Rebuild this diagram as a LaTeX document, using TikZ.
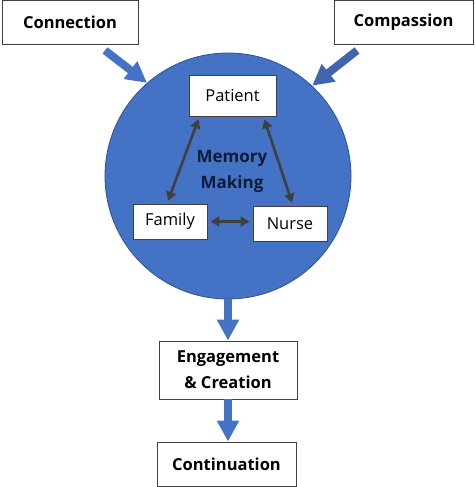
\documentclass[tikz,border=0pt]{standalone}
\usepackage{fontspec}
\setmainfont{Open Sans}
\usepackage{tikz}
\usetikzlibrary{arrows.meta,positioning}

\definecolor{hubblue}{HTML}{4472C4}
\definecolor{hubedge}{HTML}{2F528F}
\definecolor{flowdark}{HTML}{3F65AF}
\definecolor{linkgray}{HTML}{404040}
\definecolor{hubtext}{HTML}{101C3A}

\tikzset{
  box/.style={draw=black!75, line width=0.9pt, fill=white, align=center, inner sep=0pt},
  mainbox/.style={box, font=\fontsize{16.5}{26}\selectfont\bfseries},
  rolebox/.style={box, font=\fontsize{16.5}{20}\selectfont},
  flow/.style={draw=hubblue, line width=8pt, -{Triangle[width=21pt,length=21pt]}},
  link/.style={draw=linkgray, line width=2.6pt, {Triangle[width=10pt,length=9pt]}-{Triangle[width=10pt,length=9pt]}, shorten <=3pt, shorten >=3pt}
}

\begin{document}
\begin{tikzpicture}[on grid, node distance=2cm]
  \useasboundingbox (-228pt,176pt) rectangle (246pt,-311pt);
  \node[circle, draw=hubedge, line width=0.8pt, fill=hubblue, minimum size=246pt] (hub) at (0,0) {};
  \node[font=\fontsize{17}{26}\selectfont\bfseries, text=hubtext, align=center] (memory) [above right=5pt and 4pt of hub] {Memory\\Making};
  \node[rolebox, minimum width=87pt, minimum height=41pt] (patient) [above right=80.5pt and 4.5pt of hub] {Patient};
  \node[rolebox, minimum width=74pt, minimum height=35pt] (family) [below left=45.5pt and 58pt of hub] {Family};
  \node[rolebox, minimum width=74pt, minimum height=35pt] (nurse) [below right=47.5pt and 62pt of hub] {Nurse};
  \node[mainbox, minimum width=136pt, minimum height=44pt] (conn) [above left=154pt and 158pt of hub] {Connection};
  \node[mainbox, minimum width=139pt, minimum height=44pt] (comp) [above right=154pt and 175.5pt of hub] {Compassion};
  \node[mainbox, minimum width=138pt, minimum height=58pt] (engage) [below=194pt of hub] {Engagement\\\& Creation};
  \node[mainbox, minimum width=139pt, minimum height=44pt] (contin) [below left=94pt and 1.5pt of engage] {Continuation};
  % tails of the two feeding arrows
  \coordinate (connTail) at ([shift={(35pt,-6pt)}]conn.south);
  \coordinate (compTail) at ([shift={(-46.5pt,-6pt)}]comp.south);
  \path[flow] (connTail) -- (hub.131);
  \path[flow, draw=flowdark] (compTail) -- (hub.47);
  \path[flow] (hub.south) -- (engage.north);
  \path[flow] (engage.south) -- (engage.south |- contin.north);
  % links inside the circle
  \path[link] ([xshift=11pt]patient.south west) -- ([xshift=-3pt]family.north);
  \path[link] ([xshift=-13pt]patient.south east) -- ([xshift=3pt]nurse.north);
  \path[link] (family.east) -- (family.east -| nurse.west);
\end{tikzpicture}
\end{document}
